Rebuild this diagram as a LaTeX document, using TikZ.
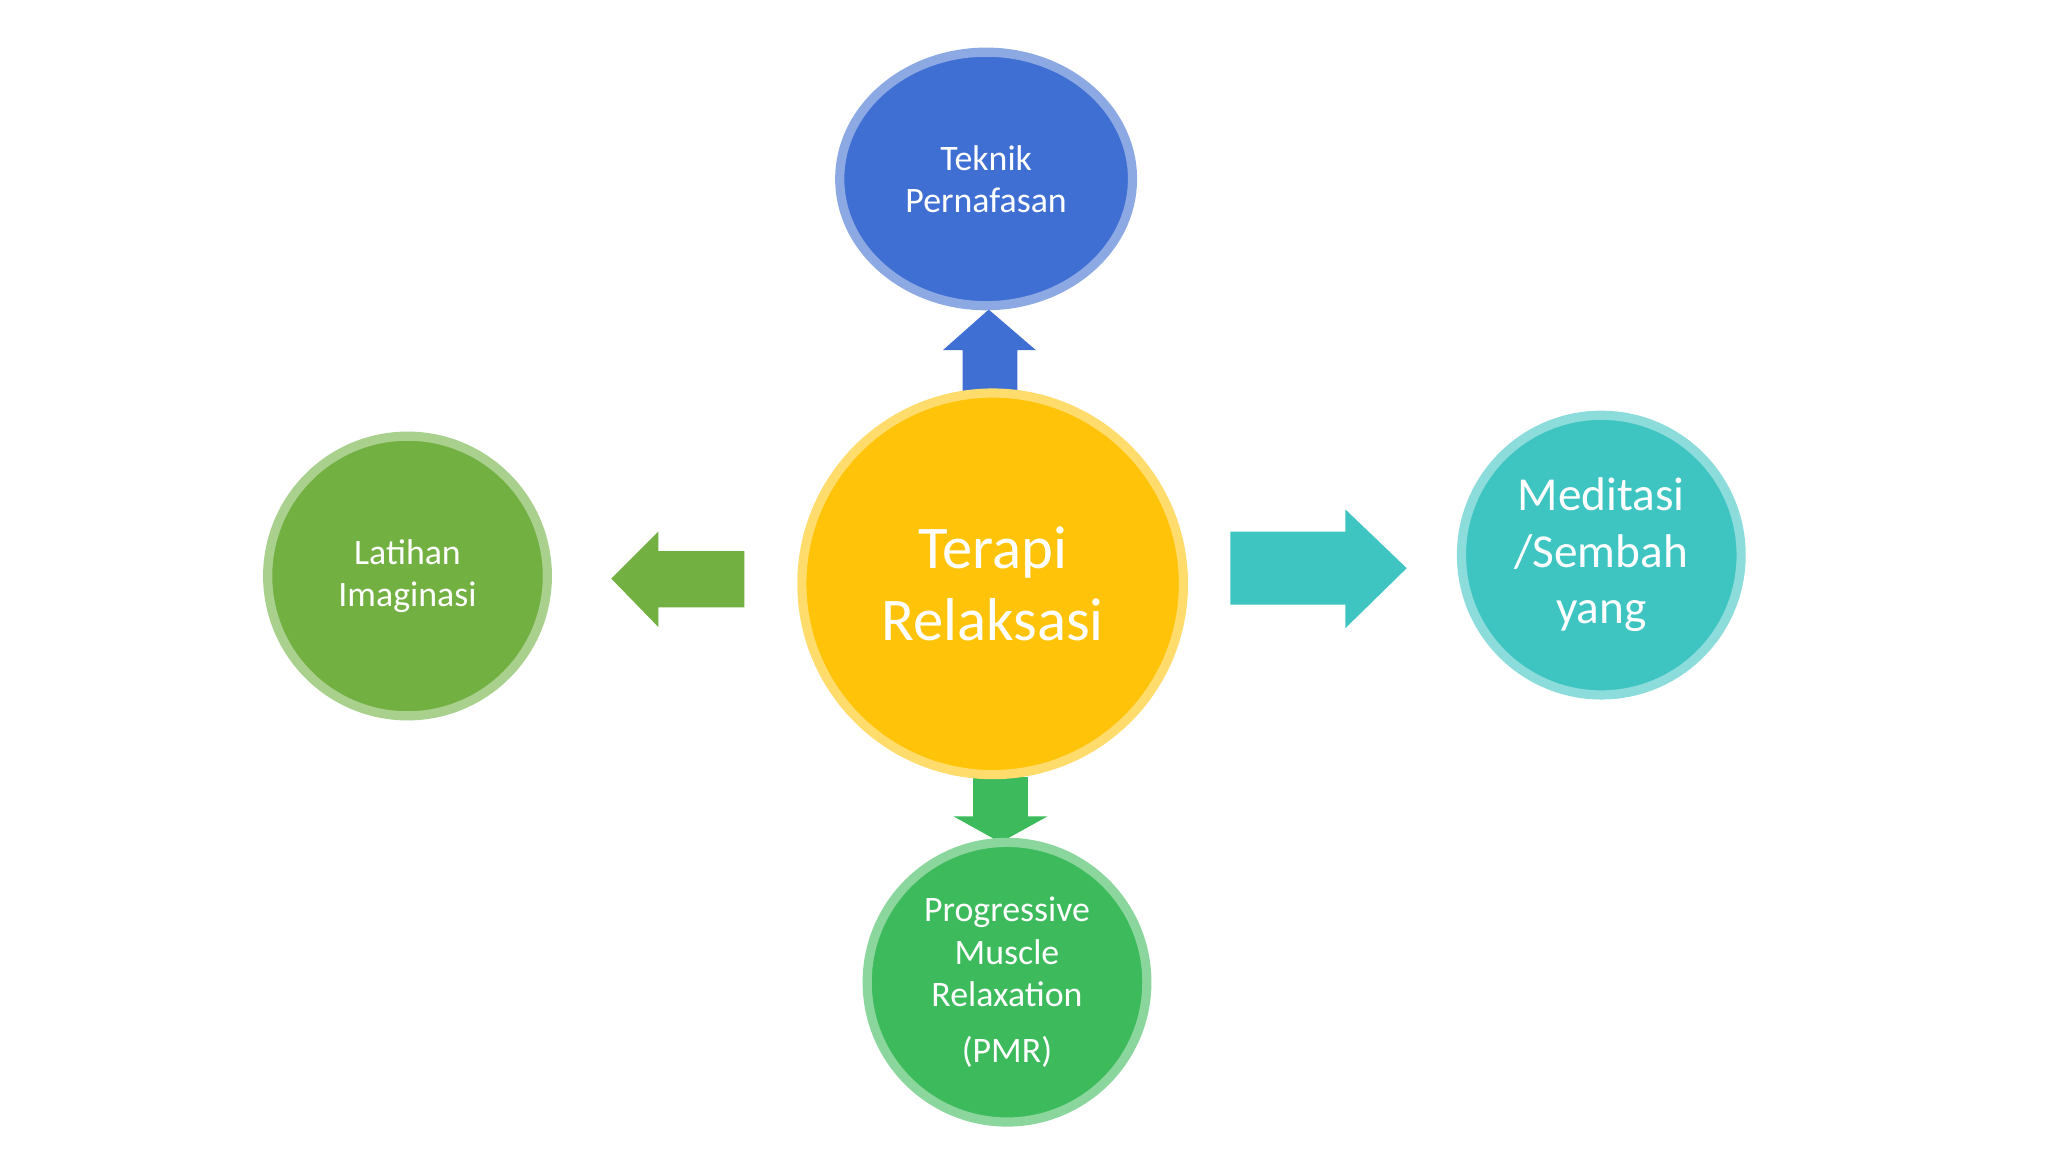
\documentclass[tikz,border=0pt]{standalone}
\usepackage{fontspec}
\setmainfont{Carlito}
\usetikzlibrary{shapes.geometric}
\begin{document}
\begin{tikzpicture}[x=0.01cm,y=-0.01cm,
  ball/.style={draw=#1!60!white,line width=2pt,fill=#1,text=white,align=center,inner sep=0pt},
  sm/.style={font=\fontsize{7.8}{9.2}\selectfont}]
\definecolor{cblue}{HTML}{3F6FD2}
\definecolor{cyel}{HTML}{FFC40A}
\definecolor{cgl}{HTML}{72B042}
\definecolor{cteal}{HTML}{3EC5C2}
\definecolor{cgb}{HTML}{3DBB5C}
\useasboundingbox (0,0) rectangle (1568,882);
% arrows
\fill[cblue] (737,300) -- (737,268) -- (722,268) -- (757,237) -- (793,268) -- (779,268) -- (779,300) -- cycle;
\fill[cgl] (570,422) -- (504,422) -- (504,407) -- (468,443) -- (504,480) -- (504,465) -- (570,465) -- cycle;
\fill[cteal] (942,407) -- (1030,407) -- (1030,390) -- (1077,435) -- (1030,481) -- (1030,463) -- (942,463) -- cycle;
\fill[cgb] (745,595) -- (787,595) -- (787,625) -- (802,625) -- (766,645) -- (730,625) -- (745,625) -- cycle;
% nodes
\node[ball=cblue,ellipse,minimum width=2.24cm,minimum height=1.94cm,sm] (t) at (755,137) {Teknik\\Pernafasan};
\node[ball=cyel,circle,minimum size=2.92cm,font=\fontsize{13.2}{15.5}\selectfont] (c) at (760,447) {Terapi\\Relaksasi};
\node[ball=cgl,circle,minimum size=2.14cm,sm] (l) at (312,441) {Latihan\\Imaginasi};
\node[ball=cteal,circle,minimum size=2.14cm,font=\fontsize{10.3}{12.3}\selectfont] (r) at (1226,425) {Meditasi\\/Sembah\\yang};
\node[ball=cgb,circle,minimum size=2.14cm,sm] (b) at (771,752) {Progressive\\Muscle\\Relaxation\\[3pt](PMR)};
\end{tikzpicture}
\end{document}
